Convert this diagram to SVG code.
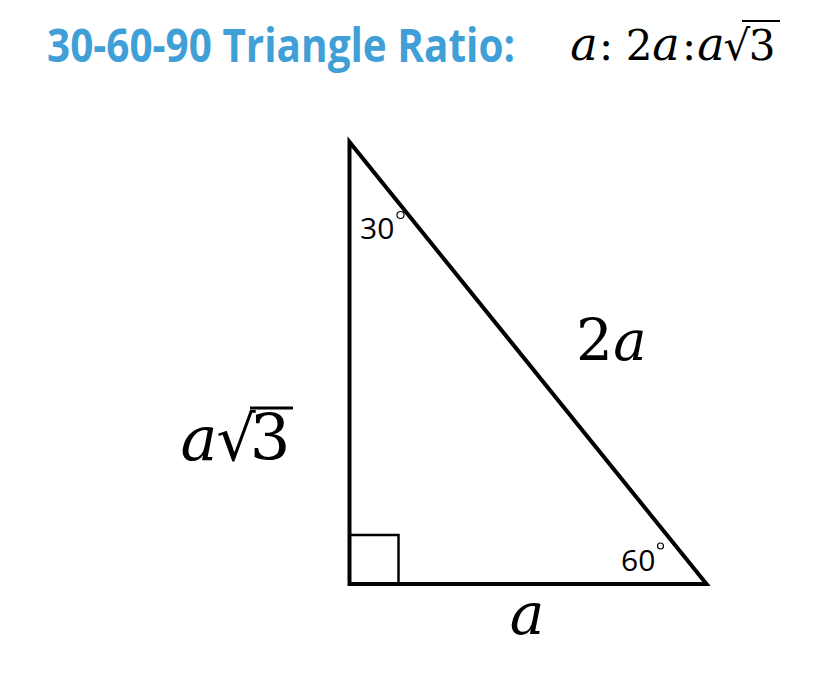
<svg xmlns="http://www.w3.org/2000/svg" width="816" height="690" viewBox="0 0 816 690">
<style>
.title{font-family:"Open Sans","Liberation Sans",sans-serif;font-weight:bold;font-size:46px;fill:#3f9fd6}
.m{font-family:"DejaVu Serif","Liberation Serif",serif;fill:#000;text-anchor:middle}
.i{font-style:italic}
.deg{font-family:"Open Sans","Liberation Sans",sans-serif;font-size:30px;fill:#000}
.ring{fill:none;stroke:#000;stroke-width:1.2}
.edge{fill:none;stroke:#000;stroke-width:4;stroke-linejoin:miter;stroke-miterlimit:10}
.box{fill:none;stroke:#000;stroke-width:2.5}
.vinc{stroke:#000}
</style>
<rect width="816" height="690" fill="#fff"/>
<g id="title">
<text class="title" x="47" y="62" textLength="468" lengthAdjust="spacingAndGlyphs">30-60-90 Triangle Ratio:</text>
</g>
<g id="ratio">
<text class="m" y="60" font-size="42"><tspan class="i" x="584" font-size="46">a</tspan><tspan x="606">:</tspan><tspan x="639">2</tspan><tspan class="i" x="666" font-size="46">a</tspan><tspan x="689">:</tspan><tspan class="i" x="711" font-size="46">a</tspan><tspan x="737">√</tspan><tspan x="762">3</tspan></text>
<line class="vinc" x1="742" y1="21" x2="780" y2="21" stroke-width="2.2"/>
</g>
<g id="triangle">
<polygon class="edge" points="349.5,142 349.5,584 706.5,584"/>
<rect class="box" x="349.5" y="535" width="49" height="49"/>
</g>
<g id="angle30">
<text class="deg" x="360" y="239">30</text>
<circle class="ring" cx="400.5" cy="215" r="3.5"/>
</g>
<g id="angle60">
<text class="deg" x="621" y="571">60</text>
<circle class="ring" cx="660.5" cy="546" r="3"/>
</g>
<g id="label-hyp">
<text class="m" y="360" font-size="58"><tspan x="594.5">2</tspan><tspan class="i" x="630" font-size="56">a</tspan></text>
</g>
<g id="label-long">
<text class="m" y="460" font-size="62"><tspan class="i" x="199">a</tspan><tspan x="236">√</tspan><tspan x="270" font-size="64">3</tspan></text>
<line class="vinc" x1="250" y1="408" x2="293" y2="408" stroke-width="3"/>
</g>
<g id="label-short">
<text class="m i" x="527" y="634" font-size="58">a</text>
</g>
</svg>
